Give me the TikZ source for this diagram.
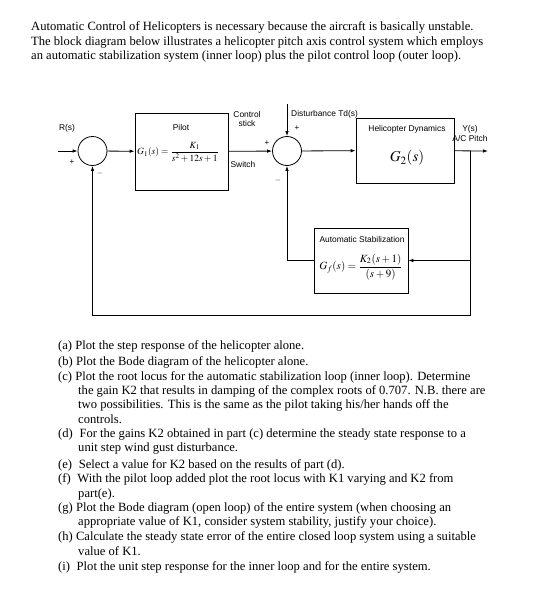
\documentclass[tikz,border=0pt]{standalone}
\usepackage{amsmath}
\usepackage{mathptmx}
\usepackage{fontspec}
\setmainfont{Liberation Serif}
\setsansfont{Liberation Sans}
\usetikzlibrary{arrows.meta,positioning,calc}

\begin{document}
\begin{tikzpicture}[x=1pt, y=-1pt,
  blk/.style={rectangle, draw, thick, minimum width=#1, inner sep=0},
  sumnode/.style={circle, draw, thick, minimum size=29pt, inner sep=0},
  arr/.style={-{Latex[length=5pt,width=3.5pt]}, thick},
  lbl/.style={font=\sffamily\fontsize{8.4}{9.5}\selectfont, inner sep=0, align=center},
  sgn/.style={font=\sffamily\fontsize{8}{9}\selectfont, inner sep=0},
  txt/.style={font=\fontsize{12.6}{14}\selectfont, anchor=west, inner sep=0}
]
  \useasboundingbox (0,0) rectangle (553,592);

  % intro text
  \node[txt] (p1) at (31,27) {Automatic Control of Helicopters is necessary because the aircraft is basically unstable.};
  \node[txt] (p2) at (31,42) {The block diagram below illustrates a helicopter pitch axis control system which employs};
  \node[txt] (p3) at (31,56) {an automatic stabilization system (inner loop) plus the pilot control loop (outer loop).};

  % blocks
  \node[sumnode] (sumR) at (92.5,151) {};
  \node[blk=93pt, minimum height=77pt] (pilot) at (181.5,151.5) {};
  \node[sumnode] (sumD) at (287,151) {};
  \node[blk=98pt, minimum height=65pt] (heli) at (405,150.5) {};
  \node[blk=94pt, minimum height=65pt] (stab) at (361,260.5) {};

  \coordinate (rin) at (58,151);
  \coordinate (td) at (287,104);
  \coordinate (branch) at (470,151);
  \coordinate (yout) at (488,151);

  % block texts
  \node[lbl] (pilotlbl) at (181,127) {Pilot};
  \node[inner sep=0, font=\fontsize{9.5}{10}\selectfont] (g1) at (178,152) {$G_1(s)=\dfrac{K_1}{s^2+12s+1}$};
  \node[lbl] (helilbl) at (407,129) {Helicopter Dynamics};
  \node[inner sep=0, font=\fontsize{15}{16}\selectfont] (g2) at (407,158) {$G_2(s)$};
  \node[lbl] (stablbl) at (362,239) {Automatic Stabilization};
  \node[inner sep=0, font=\fontsize{11}{12}\selectfont] (gf) at (361,267) {$G_f(s)=\dfrac{K_2(s+1)}{(s+9)}$};

  % signal labels
  \node[lbl] (rlbl) at (67,128) {R(s)};
  \node[lbl] (stick) at (247,119) {Control\\stick};
  \node[lbl] (switch) at (243,164) {Switch};
  \node[lbl, anchor=west] (tdlbl) at (291,114) {Disturbance Td(s)};
  \node[lbl] (ylbl) at (470,133.5) {Y(s)\\A/C Pitch};

  % signs
  \node[sgn] (s1) at (72,162) {+};
  \node[sgn] (s2) at (100,173) {$-$};
  \node[sgn] (s3) at (267,143) {+};
  \node[sgn] (s4) at (297,128) {+};
  \node[sgn] (s5) at (278,180) {$-$};

  % forward path
  \draw[arr] (rin) -- (sumR);
  \draw[arr] (sumR) -- (pilot);
  \draw[arr] (pilot) -- (sumD);
  \draw[arr] (td) -- (sumD);
  \draw[arr] (sumD) -- (heli);
  \draw[arr] (heli) -- (yout);

  % inner and outer loop
  \draw[arr] (branch) |- (stab);
  \draw[arr] (stab.west) -| (sumD.south);
  \draw[arr] (branch) -- ++(0,164) -| (sumR.south);

  % questions
  \node[txt] (qa) at (58,346) {(a) Plot the step response of the helicopter alone.};
  \node[txt] (qb) at (58,362) {(b) Plot the Bode diagram of the helicopter alone.};
  \node[txt] (qc1) at (58,377) {(c) Plot the root locus for the automatic stabilization loop (inner loop). Determine};
  \node[txt] (qc2) at (78,391) {the gain K2 that results in damping of the complex roots of 0.707. N.B. there are};
  \node[txt] (qc3) at (78,405) {two possibilities. This is the same as the pilot taking his/her hands off the};
  \node[txt] (qc4) at (78,419) {controls.};
  \node[txt] (qd1) at (58,434) {(d)\; For the gains K2 obtained in part (c) determine the steady state response to a};
  \node[txt] (qd2) at (78,448) {unit step wind gust disturbance.};
  \node[txt] (qe) at (58,465) {(e)\; Select a value for K2 based on the results of part (d).};
  \node[txt] (qf1) at (58,479) {(f)\; With the pilot loop added plot the root locus with K1 varying and K2 from};
  \node[txt] (qf2) at (78,494) {part(e).};
  \node[txt] (qg1) at (58,508) {(g) Plot the Bode diagram (open loop) of the entire system (when choosing an};
  \node[txt] (qg2) at (78,522) {appropriate value of K1, consider system stability, justify your choice).};
  \node[txt] (qh1) at (58,537) {(h) Calculate the steady state error of the entire closed loop system using a suitable};
  \node[txt] (qh2) at (78,551) {value of K1.};
  \node[txt] (qi) at (58,567) {(i)\; Plot the unit step response for the inner loop and for the entire system.};
\end{tikzpicture}
\end{document}
